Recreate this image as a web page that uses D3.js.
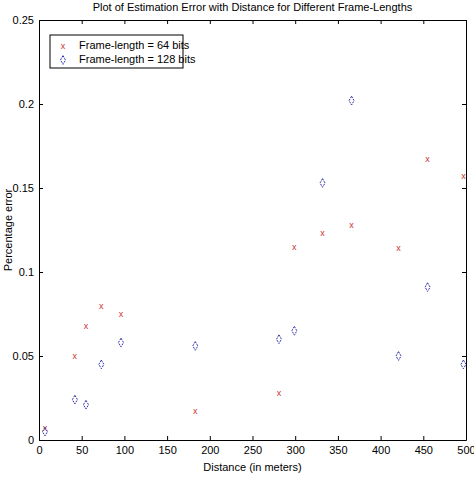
<!DOCTYPE html>
<html><head><meta charset="utf-8">
<script src="https://cdn.jsdelivr.net/npm/d3@7"></script>
<style>body{margin:0;background:#fff}text{font-family:"Liberation Sans",Arial,sans-serif;fill:#000}</style>
</head><body><svg id="c" width="474" height="477"></svg>
<script>
const distances = [7,42,55,73,96,183,281,299,332,366,421,455,497];
const err64 = [0.007,0.05,0.068,0.08,0.075,0.017,0.028,0.115,0.123,0.128,0.114,0.167,0.157];
const err128 = [0.005,0.024,0.021,0.045,0.058,0.056,0.06,0.065,0.153,0.202,0.05,0.091,0.045];
const xTicks = [0,50,100,150,200,250,300,350,400,450,500];
const yTicks = [0,0.05,0.1,0.15,0.2,0.25];
const L=39,R=466,T=20,B=440;
const svg=d3.select("#c");
const x=d3.scaleLinear().domain([0,500]).range([L,R]);
const y=d3.scaleLinear().domain([0,0.25]).range([B,T]);
svg.append("g").attr("transform",`translate(0,${B})`).call(d3.axisBottom(x).tickValues(xTicks).tickFormat(d3.format("d")).tickSizeInner(-4).tickSizeOuter(0).tickPadding(6));
svg.append("g").attr("transform",`translate(0,${T})`).call(d3.axisTop(x).tickValues(xTicks).tickFormat("").tickSizeInner(-4).tickSizeOuter(0));
svg.append("g").attr("transform",`translate(${L},0)`).call(d3.axisLeft(y).tickValues(yTicks).tickFormat(d=>d===0?"0":String(d)).tickSizeInner(-4).tickSizeOuter(0).tickPadding(5));
svg.append("g").attr("transform",`translate(${R},0)`).call(d3.axisRight(y).tickValues(yTicks).tickFormat("").tickSizeInner(-4).tickSizeOuter(0));
svg.selectAll(".tick text").attr("font-size",11);
svg.selectAll(".domain").attr("stroke","#000");
svg.append("text").attr("x",(L+R)/2).attr("y",11).attr("text-anchor","middle").attr("font-size",11).text("Plot of Estimation Error with Distance for Different Frame-Lengths");
svg.append("text").attr("x",(L+R)/2).attr("y",471).attr("text-anchor","middle").attr("font-size",11).text("Distance (in meters)");
svg.append("text").attr("transform",`translate(12,${(T+B)/2}) rotate(-90)`).attr("text-anchor","middle").attr("font-size",11).text("Percentage error");
const cross=d3.symbol().type(d3.symbolCross).size(20);
svg.append("g").selectAll("path").data(distances).join("path")
 .attr("transform",(d,i)=>`translate(${x(d)},${y(err64[i])}) rotate(45)`).attr("d",d3.symbol().type(d3.symbolCross).size(0)).remove();
svg.append("g").selectAll("text").data(distances).join("text")
 .attr("x",d=>x(d)).attr("y",(d,i)=>y(err64[i])+3).attr("text-anchor","middle").attr("font-size",9).style("fill","#c33").text("x");
svg.append("g").selectAll("path").data(distances).join("path")
 .attr("transform",(d,i)=>`translate(${x(d)},${y(err128[i])})`).attr("d",d3.symbol().type(d3.symbolDiamond).size(22))
 .attr("fill","none").attr("stroke","#33a").attr("stroke-width",1).attr("stroke-dasharray","2,1");
const lg=svg.append("g").attr("transform","translate(50,35)");
lg.append("rect").attr("width",133).attr("height",33).attr("fill","#fff").attr("stroke","#000");
lg.append("text").attr("x",13).attr("y",14).attr("text-anchor","middle").attr("font-size",9).style("fill","#c33").text("x");
lg.append("path").attr("transform","translate(13,25)").attr("d",d3.symbol().type(d3.symbolDiamond).size(22)).attr("fill","none").attr("stroke","#33a").attr("stroke-dasharray","2,1");
lg.append("text").attr("x",29).attr("y",14).attr("font-size",11).text("Frame-length = 64 bits");
lg.append("text").attr("x",29).attr("y",28).attr("font-size",11).text("Frame-length = 128 bits");
</script></body></html>
